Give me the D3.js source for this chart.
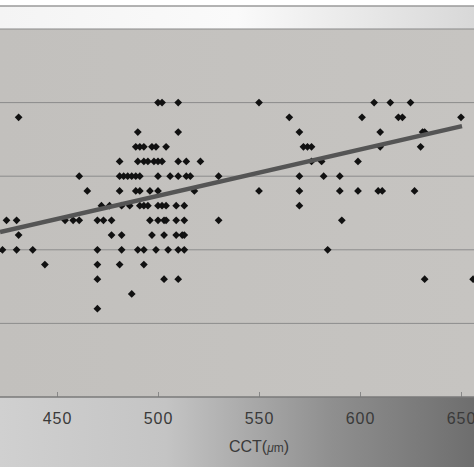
<!DOCTYPE html>
<html><head><meta charset="utf-8">
<script src="https://cdnjs.cloudflare.com/ajax/libs/d3/7.8.5/d3.min.js"></script>
<style>body{margin:0;background:#fff}svg{display:block}</style></head>
<body><svg id="c" width="474" height="474"></svg>
<script>
const xTicks=[450,500,550,600,650];
const yGrid=[1,2,3,4,5];
// rows: [y level, list of CCT values]
const rowLevels=[4.0,3.8,3.6,3.4,3.2,3.0,2.8,2.6,2.4,2.2,2.0,1.8,1.6,1.4,1.2];
const rowCCT=[
 [500,502,510,550,607,615,625],
 [431,565,601,619,621,650],
 [490,510,570,610,631,632],
 [489,491,493,497,499,504,572,574,576,610,630],
 [481,490,493,495,498,500,502,510,514,521,576,581,599],
 [461,481,483,485,487,489,491,500,506,510,514,516,530,570,582,590],
 [465,481,489,491,496,500,518,550,570,590,599,609,611,627],
 [472,476,482,486,491,493,495,500,502,504,509,513,570],
 [425,430,454,458,461,470,473,477,496,500,503,504,509,513,530,591],
 [431,477,482,497,503,509,512,513],
 [423,430,438,470,482,490,493,499,505,510,513,584],
 [444,470,481,493],
 [470,503,510,632,656],
 [487],
 [470]
];
const trendX=[421.8,650.5];
const trendY=[2.24,3.68];

const svg=d3.select("#c");
const defs=svg.append("defs");
const gt=defs.append("linearGradient").attr("id","gt");
gt.append("stop").attr("offset","0").attr("stop-color","#f4f4f4");
gt.append("stop").attr("offset","0.5").attr("stop-color","#fafafa");
gt.append("stop").attr("offset","1").attr("stop-color","#d8d8d8");
const gb=defs.append("linearGradient").attr("id","gb");
gb.append("stop").attr("offset","0").attr("stop-color","#d0d0d0");
gb.append("stop").attr("offset","0.35").attr("stop-color","#c4c4c4");
gb.append("stop").attr("offset","0.7").attr("stop-color","#8f8f8f");
gb.append("stop").attr("offset","1").attr("stop-color","#6e6e6e");
const gp=defs.append("linearGradient").attr("id","gp");
gp.append("stop").attr("offset","0").attr("stop-color","#c2c0bd");
gp.append("stop").attr("offset","1").attr("stop-color","#c6c4c1");

const x=d3.scaleLinear().domain([450,650]).range([57,461]);
const y=d3.scaleLinear().domain([0,5]).range([397,29]);

svg.append("rect").attr("x",0).attr("y",6).attr("width",474).attr("height",23).attr("fill","url(#gt)");
svg.append("line").attr("x1",0).attr("x2",474).attr("y1",6).attr("y2",6).attr("stroke","#9a9a9a").attr("stroke-width",1.5);
svg.append("rect").attr("x",0).attr("y",29).attr("width",474).attr("height",368).attr("fill","url(#gp)");
svg.append("rect").attr("x",0).attr("y",397).attr("width",474).attr("height",70).attr("fill","url(#gb)");
svg.append("line").attr("x1",0).attr("x2",474).attr("y1",29).attr("y2",29).attr("stroke","#8a8a8a").attr("stroke-width",1.2);

svg.append("g").selectAll("line").data(yGrid.slice(0,4)).join("line")
 .attr("x1",0).attr("x2",474).attr("y1",d=>y(d)).attr("y2",d=>y(d))
 .attr("stroke","#8c8c8c").attr("stroke-width",1);

const ax=svg.append("g").attr("transform","translate(0,397)")
 .call(d3.axisBottom(x).tickValues(xTicks).tickSize(-5).tickPadding(16));
ax.select(".domain").remove();
svg.append("line").attr("x1",0).attr("x2",474).attr("y1",397).attr("y2",397).attr("stroke","#7a7a7a").attr("stroke-width",1.5);
ax.selectAll(".tick line").attr("stroke","#888");
ax.selectAll("text").attr("font-family","Liberation Sans, Arial, sans-serif").attr("font-size",16).attr("fill","#3a3a3a").attr("letter-spacing","1");

const t=svg.append("text").attr("x",259).attr("y",452).attr("text-anchor","middle")
 .attr("font-family","Liberation Sans, Arial, sans-serif").attr("font-size",16).attr("fill","#3a3a3a");
t.append("tspan").text("CCT(");
t.append("tspan").attr("font-style","italic").attr("font-size",12).text("μ");
t.append("tspan").attr("font-size",12).text("m");
t.append("tspan").text(")");

const pts=[];
rowLevels.forEach((lv,i)=>rowCCT[i].forEach(v=>pts.push([v,lv])));
const sym=d3.symbol().type(d3.symbolSquare).size(30);
svg.append("g").selectAll("path").data(pts).join("path")
 .attr("transform",d=>`translate(${x(d[0])},${y(d[1])}) rotate(45)`).attr("d",sym).attr("fill","#111");

svg.append("line").attr("x1",x(trendX[0])).attr("y1",y(trendY[0])).attr("x2",x(trendX[1])).attr("y2",y(trendY[1]))
 .attr("stroke","#555").attr("stroke-width",4.5);
</script></body></html>
